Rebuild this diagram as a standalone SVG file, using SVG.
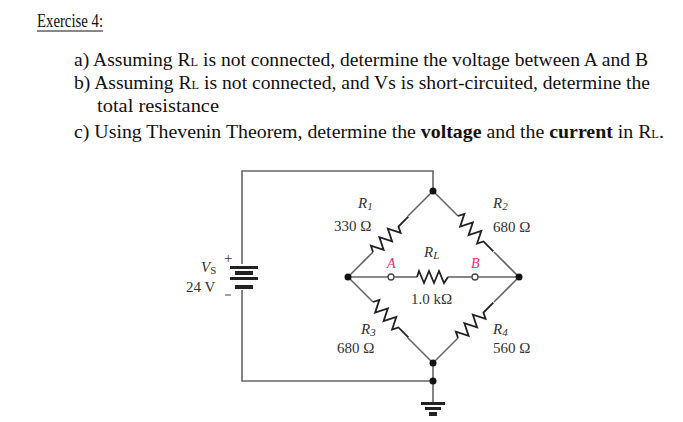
<svg xmlns="http://www.w3.org/2000/svg" width="683" height="422" viewBox="0 0 683 422">
<style>
.t{font-family:"Liberation Serif",serif;font-size:19px;fill:#111}
.c{font-family:"Liberation Serif",serif;font-size:15px;fill:#333}
.i{font-style:italic}
.m{font-family:"Liberation Serif",serif;font-size:14px;font-style:italic;fill:#e0307a}
.w{fill:none;stroke:#666;stroke-width:1.6}
.z{fill:none;stroke:#222;stroke-width:1.8;stroke-linejoin:miter}
.d{fill:#111}
.o{fill:#fff;stroke:#444;stroke-width:1.3}
</style>
<rect width="683" height="422" fill="#fff"/>
<g id="text">
<text class="t" x="37" y="27" font-size="21" textLength="66" lengthAdjust="spacingAndGlyphs">Exercise 4:</text>
<line x1="37" y1="31" x2="103" y2="31" stroke="#111" stroke-width="1"/>
<text class="t" x="74" y="66" textLength="574" lengthAdjust="spacingAndGlyphs">a)  Assuming R<tspan font-size="12">L</tspan> is not connected, determine the voltage between A and B</text>
<text class="t" x="74" y="89" textLength="576" lengthAdjust="spacingAndGlyphs">b)  Assuming R<tspan font-size="12">L</tspan> is not connected, and Vs is short-circuited, determine the</text>
<text class="t" x="97" y="112" textLength="122" lengthAdjust="spacingAndGlyphs">total resistance</text>
<text class="t" x="74" y="138" textLength="590" lengthAdjust="spacingAndGlyphs">c)  Using Thevenin Theorem, determine the <tspan font-weight="bold">voltage</tspan> and the <tspan font-weight="bold">current</tspan> in R<tspan font-size="12">L</tspan>.</text>
</g>
<g id="connectors">
<polyline class="w" points="242,264 242,171 433,171 433,191"/>
<polyline class="w" points="242,290 242,381 433,381 433,402"/>
<line class="w" x1="433" y1="363" x2="433" y2="381"/>
<line class="w" x1="348" y1="277" x2="388" y2="277"/>
<line class="w" x1="394" y1="277" x2="417" y2="277"/>
<line class="w" x1="448" y1="277" x2="472" y2="277"/>
<line class="w" x1="478" y1="277" x2="519" y2="277"/>
<line class="w" x1="348" y1="277" x2="373" y2="252"/>
<line class="w" x1="408" y1="216" x2="433" y2="191"/>
<line class="w" x1="433" y1="191" x2="458" y2="216"/>
<line class="w" x1="494" y1="252" x2="519" y2="277"/>
<line class="w" x1="348" y1="277" x2="373" y2="302"/>
<line class="w" x1="408" y1="338" x2="433" y2="363"/>
<line class="w" x1="433" y1="363" x2="458" y2="338"/>
<line class="w" x1="494" y1="302" x2="519" y2="277"/>
</g>
<g id="R1"><g transform="translate(373,252) rotate(-45)"><polyline class="z" points="0,0 3,-6 9,6 15,-6 21,6 27,-6 33,6 36,0 50,0"/></g>
<text class="c i" x="358" y="208">R<tspan font-size="11" dy="2">1</tspan></text><text class="c" x="334" y="231">330 Ω</text></g>
<g id="R2"><g transform="translate(458,216) rotate(45)"><polyline class="z" points="0,0 3,-6 9,6 15,-6 21,6 27,-6 33,6 36,0 50,0"/></g>
<text class="c i" x="493" y="208">R<tspan font-size="11" dy="2">2</tspan></text><text class="c" x="493" y="232">680 Ω</text></g>
<g id="R3"><g transform="translate(373,302) rotate(45)"><polyline class="z" points="0,0 3,-6 9,6 15,-6 21,6 27,-6 33,6 36,0 50,0"/></g>
<text class="c i" x="361" y="334">R<tspan font-size="11" dy="2">3</tspan></text><text class="c" x="337" y="353">680 Ω</text></g>
<g id="R4"><g transform="translate(458,338) rotate(-45)"><polyline class="z" points="0,0 3,-6 9,6 15,-6 21,6 27,-6 33,6 36,0 50,0"/></g>
<text class="c i" x="493" y="334">R<tspan font-size="11" dy="2">4</tspan></text><text class="c" x="493" y="353">560 Ω</text></g>
<g id="RL"><polyline class="z" points="417,277 419,271 424,283 429,271 434,283 439,271 444,283 448,277"/>
<text class="c i" x="424" y="257">R<tspan font-size="11" dy="2">L</tspan></text><text class="c" x="411" y="304">1.0 kΩ</text></g>
<g id="A"><circle class="o" cx="391" cy="277" r="3"/><text class="m" x="387" y="268">A</text></g>
<g id="B"><circle class="o" cx="475" cy="277" r="3"/><text class="m" x="471" y="268">B</text></g>
<g id="nodes">
<circle class="d" cx="433" cy="191" r="3.5"/><circle class="d" cx="348" cy="277" r="3.5"/>
<circle class="d" cx="519" cy="277" r="3.5"/><circle class="d" cx="433" cy="363" r="3.5"/>
<circle class="d" cx="433" cy="381" r="3.5"/>
</g>
<g id="Vs">
<rect x="230" y="266" width="28" height="3" fill="#222"/>
<rect x="235" y="271" width="18" height="4" fill="#222"/>
<rect x="230" y="277" width="28" height="3" fill="#222"/>
<rect x="235" y="285" width="18" height="4" fill="#222"/>
<text class="c" x="224" y="263" font-size="12">+</text>
<line x1="225" y1="295" x2="231" y2="295" stroke="#444" stroke-width="1"/>
<text class="c i" x="201" y="272">V<tspan font-size="11" font-style="normal" dy="2">S</tspan></text>
<text class="c" x="186" y="292">24 V</text>
</g>
<g id="ground">
<rect x="421" y="402" width="24" height="3" fill="#222"/>
<rect x="425" y="407" width="16" height="3" fill="#222"/>
<rect x="429" y="412" width="8" height="4" fill="#222"/>
</g>
</svg>
